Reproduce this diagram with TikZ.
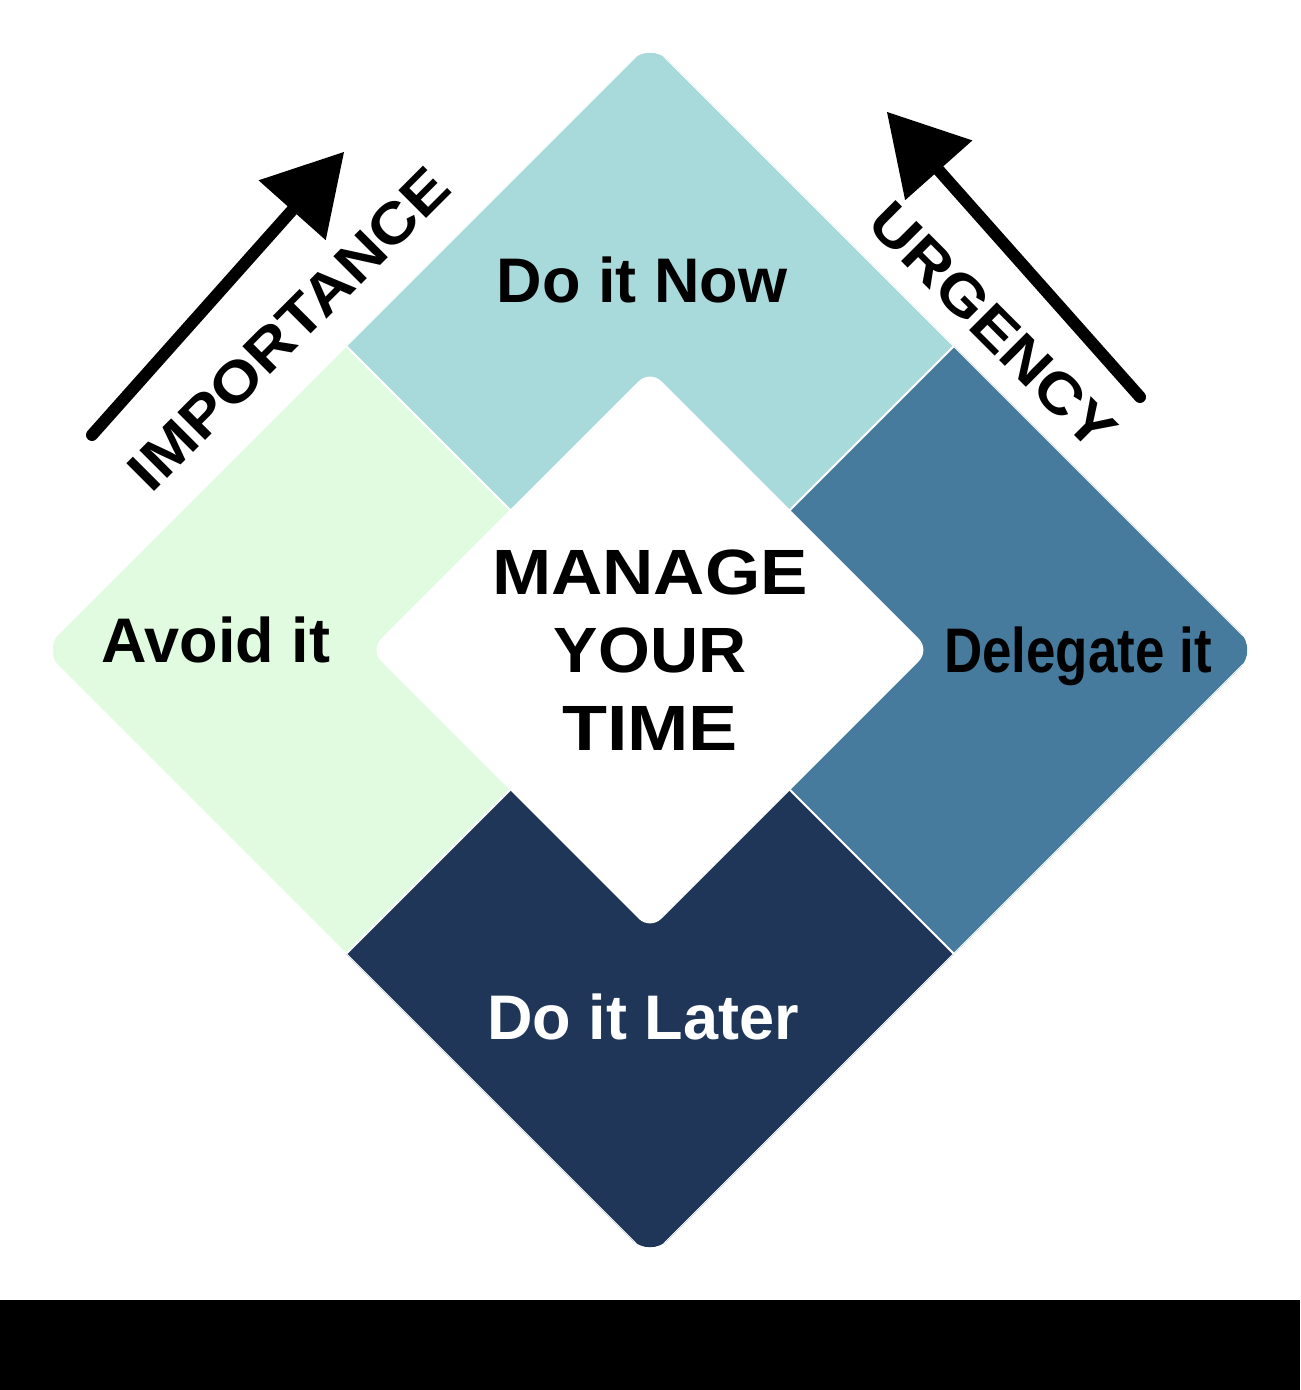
\documentclass[tikz,border=0pt]{standalone}
\usepackage{fontspec}
\setmainfont{Liberation Sans}
\usetikzlibrary{arrows.meta}
\definecolor{nowcol}{RGB}{168,217,219}
\definecolor{avoidcol}{RGB}{224,251,223}
\definecolor{delegatecol}{RGB}{70,123,158}
\definecolor{latercol}{RGB}{31,54,89}

\begin{document}
\begin{tikzpicture}[x=50pt,y=50pt,
    quad/.style={font=\bfseries\fontsize{31.5}{36}\selectfont, inner sep=0pt, anchor=base},
    axislabel/.style={font=\bfseries\fontsize{28.5}{32}\selectfont, inner sep=0pt},
    axis/.style={line width=6pt, line cap=round, -{Triangle[length=39pt,width=45pt,line width=0pt]}}]
    \useasboundingbox (-6.5,-7.4) rectangle (6.5,6.5);
    \fill[white] (-6.5,-6.5) rectangle (6.5,6.5);
    \fill[black] (-6.5,-7.4) rectangle (6.5,-6.5);
    % four quadrants cut from one rounded diamond
    \begin{scope}
    \clip[rounded corners=13pt] (0,6.08) -- (6.08,0) -- (0,-6.08) -- (-6.08,0) -- cycle;
    \foreach \cx/\cy/\col in {0/3.04/nowcol, -3.04/0/avoidcol, 3.04/0/delegatecol, 0/-3.04/latercol}
    \filldraw[fill=\col, draw=white, line width=1pt] (\cx,\cy) ++(0,3.04) -- ++(3.04,-3.04)
    -- ++(-3.04,-3.04) -- ++(-3.04,3.04) -- cycle;
    \end{scope}
    \fill[white, rounded corners=8pt] (0,2.8) -- (2.8,0) -- (0,-2.8) -- (-2.8,0) -- cycle;
    \node[quad] (now) at (-0.08,3.47) {Do it Now};
    \node[quad] (avoid) at (-4.34,-0.13) {Avoid it};
    \node[quad] (delegate) at (4.28,-0.23) {\scalebox{0.84}[1]{Delegate it}};
    \node[quad, text=white] (later) at (-0.07,-3.89) {Do it Later};
    \node[font=\bfseries\fontsize{32}{39}\selectfont, align=center, inner sep=0pt] (title) at (0,0)
    {\scalebox{1.11}[1]{MANAGE}\\\scalebox{1.04}[1]{YOUR}\\\scalebox{1.15}[1]{TIME}};
    % axes
    \coordinate (impstart) at (-5.58,2.15); \coordinate (imptip) at (-3.06,4.98);
    \coordinate (urgstart) at (4.90,2.53); \coordinate (urgtip) at (2.37,5.38);
    \draw[axis] (impstart) -- (imptip);
    \draw[axis] (urgstart) -- (urgtip);
    \node[axislabel, rotate=45] (importance) at (-3.61,3.21) {\scalebox{1.13}[1]{IMPORTANCE}};
    \node[axislabel, rotate=-45] (urgency) at (3.43,3.24) {\scalebox{1.13}[1]{URGENCY}};
\end{tikzpicture}
\end{document}
